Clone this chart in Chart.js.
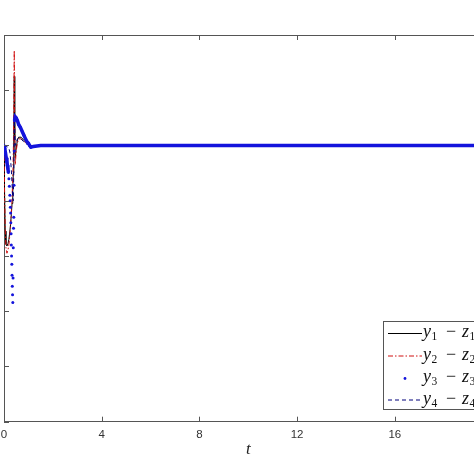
<!DOCTYPE html>
<html>
<head>
<meta charset="utf-8">
<script src="https://cdn.jsdelivr.net/npm/chart.js@4"></script>
<style>
  html, body { margin: 0; padding: 0; background: #fff; overflow: hidden; }
  #wrap { position: absolute; left: 0; top: 0; width: 500px; height: 474px; }
</style>
</head>
<body>
<div id="wrap"><canvas id="errChart"></canvas></div>
<script>
// time grid for y1, y2, y4
const t = [0, 0.02, 0.05, 0.08, 0.12, 0.16, 0.2, 0.24, 0.27, 0.3, 0.33, 0.36, 0.38, 0.4, 0.42, 0.44, 0.46, 0.5, 0.55, 0.6, 0.7, 0.8, 0.9, 1.0, 1.1, 1.3, 1.6, 2, 5, 10, 15, 20];
const e1 = [0, -0.8, -1.55, -1.78, -1.82, -1.78, -1.7, -1.55, -1.42, -1.25, -1.05, -0.8, -0.5, 0.2, 1.25, 0.1, -0.22, -0.05, 0.1, 0.15, 0.15, 0.1, 0.05, 0.02, 0, 0, 0, 0, 0, 0, 0, 0];
const e2 = [0, -0.7, -1.5, -1.85, -1.95, -1.9, -1.8, -1.62, -1.45, -1.22, -0.95, -0.6, -0.2, 0.6, 1.72, 0.3, -0.35, -0.1, 0.05, 0.12, 0.12, 0.08, 0.04, 0.02, 0, 0, 0, 0, 0, 0, 0, 0];
const e4 = [0, 0, 0, -0.01, -0.02, -0.03, -0.05, -0.12, -0.25, -0.45, -0.7, -0.95, -1.0, -0.5, 0.45, 0.3, 0, 0.05, 0.12, 0.14, 0.12, 0.07, 0.03, 0.01, 0, 0, 0, 0, 0, 0, 0, 0];

// y3 is drawn with dots, sampled on its own grid
const t3 = [0, 0.03, 0.06, 0.09, 0.12, 0.14, 0.16, 0.18, 0.2, 0.22, 0.24, 0.25, 0.26, 0.27, 0.28, 0.29, 0.3, 0.31, 0.32, 0.33, 0.34, 0.35, 0.36, 0.37, 0.38, 0.39, 0.4, 0.41, 0.42, 0.43, 0.46, 0.5, 0.55, 0.6, 0.67, 0.75, 0.82, 0.88, 0.94, 1.0, 1.05, 1.1, 1.2, 1.5, 2, 5, 10, 15, 20];
const e3 = [0, -0.05, -0.13, -0.22, -0.3, -0.36, -0.42, -0.49, -0.6, -0.74, -0.9, -1.0, -1.12, -1.22, -1.4, -1.6, -1.8, -2.0, -2.15, -2.35, -2.55, -2.7, -2.84, -2.4, -1.85, -1.5, -1.3, -0.72, -0.1, 0.45, 0.52, 0.5, 0.45, 0.38, 0.33, 0.25, 0.18, 0.12, 0.07, 0.04, 0.0, -0.03, -0.02, 0, 0, 0, 0, 0, 0];

const xTicks = [0, 4, 8, 12, 16, 20];
const legendLabels = ['1', '2', '3', '4'];

const pts = (xs, ys) => xs.map((x, i) => ({ x: x, y: ys[i] }));
const blue = '#1414dc';

// frame on top and inward ticks, MATLAB style
const frameTicks = {
  id: 'frameTicks',
  afterDatasetsDraw(chart) {
    const { ctx, chartArea: a, scales: { x, y } } = chart;
    ctx.save();
    ctx.strokeStyle = '#555';
    ctx.lineWidth = 1;
    ctx.beginPath();
    ctx.moveTo(a.left, a.top + 0.5);
    ctx.lineTo(a.right, a.top + 0.5);
    xTicks.forEach(v => {
      const px = Math.round(x.getPixelForValue(v)) + 0.5;
      ctx.moveTo(px, a.bottom); ctx.lineTo(px, a.bottom - 5);
      ctx.moveTo(px, a.top); ctx.lineTo(px, a.top + 5);
    });
    y.ticks.forEach(tk => {
      const py = Math.round(y.getPixelForValue(tk.value)) + 0.5;
      ctx.moveTo(a.left, py); ctx.lineTo(a.left + 5, py);
    });
    ctx.stroke();
    ctx.restore();
  }
};

// legend box inside the plot, lower right
const boxLegend = {
  id: 'boxLegend',
  afterDraw(chart) {
    const ctx = chart.ctx;
    const bx = 383.5, by = 321.5, bw = 200, bh = 88;
    ctx.save();
    ctx.fillStyle = '#fff';
    ctx.fillRect(bx, by, bw, bh);
    ctx.strokeStyle = '#555';
    ctx.lineWidth = 1;
    ctx.strokeRect(bx, by, bw, bh);
    const rows = [333, 355.5, 377.5, 399.5];
    chart.data.datasets.forEach((ds, i) => {
      const ry = rows[i];
      ctx.save();
      if (ds.legendDot) {
        ctx.fillStyle = ds.pointBackgroundColor;
        ctx.beginPath();
        ctx.arc(405, ry + 1, 1.4, 0, Math.PI * 2);
        ctx.fill();
      } else {
        ctx.strokeStyle = ds.borderColor;
        ctx.lineWidth = ds.borderWidth;
        ctx.setLineDash(ds.borderDash || []);
        ctx.beginPath();
        ctx.moveTo(388, ry + 0.5);
        ctx.lineTo(422, ry + 0.5);
        ctx.stroke();
      }
      ctx.restore();
      // y_i − z_i
      ctx.fillStyle = '#111';
      ctx.textBaseline = 'alphabetic';
      const base = ry + 4;
      let px = 423;
      ctx.font = 'italic 18px "Liberation Serif"';
      ctx.fillText('y', px, base);
      px += ctx.measureText('y').width + 0.5;
      ctx.font = '11.5px "Liberation Serif"';
      ctx.fillText(legendLabels[i], px, base + 3);
      ctx.font = '18px "Liberation Serif"';
      ctx.fillText('\u2212', 446, base);
      ctx.font = 'italic 18px "Liberation Serif"';
      ctx.fillText('z', 462, base);
      px = 462 + ctx.measureText('z').width + 0.5;
      ctx.font = '11.5px "Liberation Serif"';
      ctx.fillText(legendLabels[i], px, base + 3);
    });
    ctx.restore();
  }
};

new Chart(document.getElementById('errChart'), {
  type: 'line',
  data: {
    datasets: [
      { label: 'y1 - z1', data: pts(t, e1), borderColor: '#000', borderWidth: 1, pointRadius: 0, order: 4 },
      { label: 'y2 - z2', data: pts(t, e2), borderColor: '#d01010', borderWidth: 1, borderDash: [5, 2, 1.5, 2], pointRadius: 0, order: 3 },
      {
        label: 'y3 - z3', data: pts(t3, e3), legendDot: true,
        borderColor: blue, borderWidth: 3.5, pointRadius: 1.5,
        pointBackgroundColor: blue, pointBorderWidth: 0,
        segment: {
          borderColor: c => Math.abs(c.p1.parsed.y - c.p0.parsed.y) > 0.095 ? 'rgba(0,0,0,0)' : blue
        },
        order: 1
      },
      { label: 'y4 - z4', data: pts(t, e4), borderColor: '#00007a', borderWidth: 1, borderDash: [4, 3], pointRadius: 0, order: 2 }
    ]
  },
  options: {
    responsive: true,
    maintainAspectRatio: false,
    animation: false,
    layout: { padding: { top: 35, right: 7.5, left: 0, bottom: 0 } },
    plugins: { legend: { display: false }, tooltip: { enabled: false } },
    elements: { line: { tension: 0 } },
    scales: {
      x: {
        type: 'linear', min: 0, max: 20,
        afterFit: s => { s.height = 52.3; s.paddingLeft = 0; s.paddingRight = 0; },
        afterBuildTicks: s => { s.ticks = xTicks.map(v => ({ value: v })); },
        grid: { display: false, drawTicks: false },
        border: { display: true, color: '#555', width: 1 },
        ticks: { padding: 6, color: '#333', font: { family: '"Liberation Sans", Arial', size: 11.5 } },
        title: {
          display: true, text: 't', color: '#222',
          font: { family: '"Liberation Serif"', style: 'italic', size: 17 },
          padding: { top: 0, bottom: 14 }
        }
      },
      y: {
        min: -5, max: 2,
        afterFit: s => { s.width = 3.5; s.paddingTop = 0; s.paddingBottom = 0; },
        grid: { display: false, drawTicks: false },
        border: { display: true, color: '#555', width: 1 },
        ticks: { display: false, stepSize: 1 }
      }
    }
  },
  plugins: [frameTicks, boxLegend]
});
</script>
</body>
</html>
